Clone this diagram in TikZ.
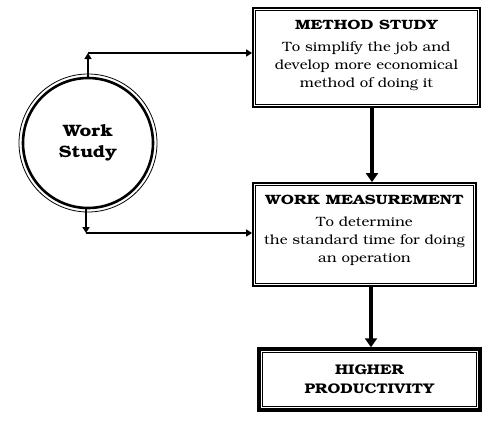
\documentclass[tikz,border=0pt]{standalone}
\usepackage[T1]{fontenc}
\usepackage{bookman}
\usepackage{graphicx}
\usetikzlibrary{arrows.meta,calc}
\newcommand{\bodyx}[1]{\scalebox{1.11}[1]{#1}}
\newcommand{\headx}[1]{\scalebox{1.22}[1]{\bfseries #1}}
\tikzset{
  box/.style={draw,line width=1.8pt,inner sep=0pt},
  boxtext/.style={align=center,inner sep=0pt,font=\fontsize{13.5}{18}\selectfont},
  inner frame/.style={line width=0.8pt},
  arr/.style={line width=1.8pt,-{Triangle[length=6pt,width=7pt]}},
  bigarr/.style={line width=3.5pt,-{Triangle[length=9pt,width=12pt]}},
}
\begin{document}
\begin{tikzpicture}[x=1pt,y=-1pt]
\useasboundingbox (0,0) rectangle (492,426);
% Work study circle
\node[circle,draw,line width=2.6pt,minimum size=130pt,inner sep=0pt,align=center,
      font=\bfseries\fontsize{16.5}{22}\selectfont] (ws) at (88,143)
      {\scalebox{1.16}[1]{Work}\\[-1pt]\scalebox{1.16}[1]{Study}};
\draw[line width=0.8pt] (ws.center) circle[radius=69pt];
% Method study
\node[box,minimum width=227pt,minimum height=99pt] (ms) at (366.5,57.5) {};
\draw[inner frame] ($(ms.north west)+(3.5,3.5)$) rectangle ($(ms.south east)+(-3.5,-3.5)$);
\node[boxtext] (mst) at ($(ms.center)+(0,-2.5)$)
  {\headx{METHOD STUDY}\\[4pt]\bodyx{To simplify the job and}\\\bodyx{develop more economical}\\\bodyx{method of doing it}};
% Work measurement
\node[box,minimum width=223pt,minimum height=103pt] (wm) at (364.5,234.5) {};
\draw[inner frame] ($(wm.north west)+(3.5,3.5)$) rectangle ($(wm.south east)+(-3.5,-3.5)$);
\node[boxtext] (wmt) at ($(wm.center)+(0,-4.5)$)
  {\headx{WORK MEASUREMENT}\\[4pt]\bodyx{To determine}\\\bodyx{the standard time for doing}\\\bodyx{an operation}};
% Higher productivity
\node[draw,line width=3.5pt,minimum width=221pt,minimum height=61pt,inner sep=0pt,align=center,
      font=\bfseries\fontsize{14}{19}\selectfont] (hp) at (369.5,379.5)
      {\scalebox{1.14}[1]{HIGHER}\\\scalebox{1.14}[1]{PRODUCTIVITY}};
\draw[inner frame] ($(hp.north west)+(5,5)$) rectangle ($(hp.south east)+(-5,-5)$);
% connectors
\coordinate (t) at (88,53);
\coordinate (b) at (86,233);
\draw[arr] (ws.north) -- (t);
\draw[arr] (t) -- (t -| ms.west);
\draw[arr] (ws.south -| b) -- (b);
\draw[arr] (b) -- (b -| wm.west);
\draw[bigarr] (ms.south -| 372,0) -- (wm.north -| 372,0);
\draw[bigarr] (wm.south -| 371,0) -- (hp.north -| 371,0);
\end{tikzpicture}
\end{document}
